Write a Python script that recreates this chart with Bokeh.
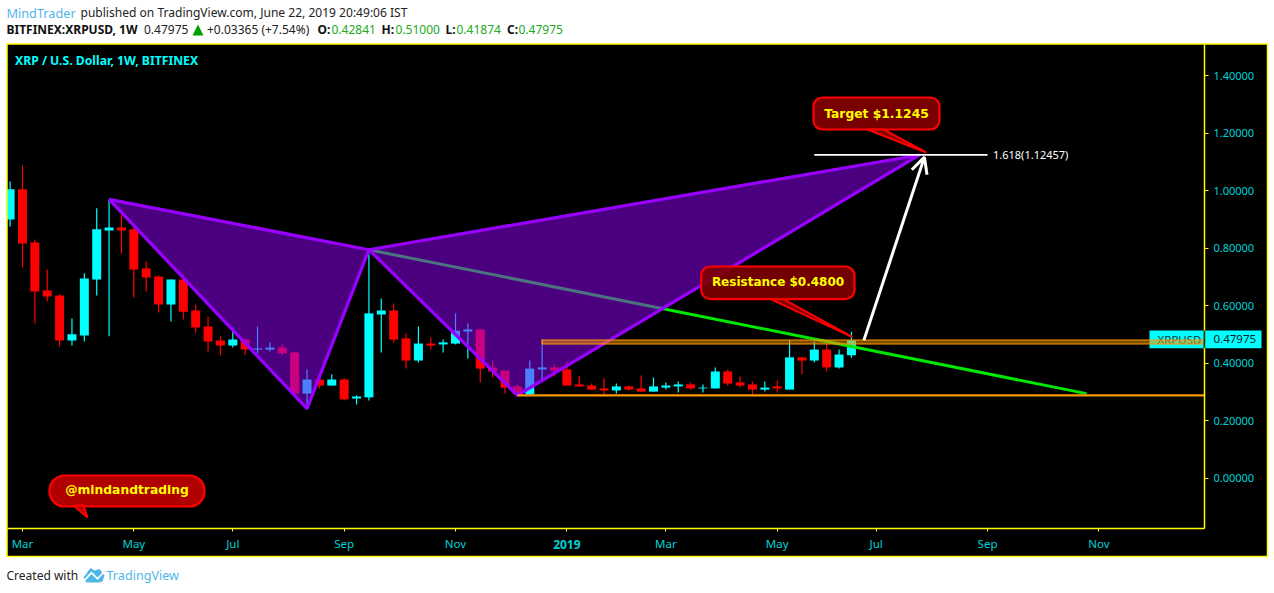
from bokeh.embed import file_html
from bokeh.resources import INLINE
from bokeh.plotting import figure
from bokeh.models import (Range1d, LinearAxis, FixedTicker, Label, BoxAnnotation,
                          PolyAnnotation, Arrow, OpenHead, ColumnDataSource)

# ---- weekly candles, Feb 2018 - Jun 2019 ----
opens = [.900,1.005,.820,.653,.636,.480,.497,.692,.862,.872,.866,.730,.702,.605,.692,.584,.528,.480,.462,.483,.448,.448,.455,.438,
         .295,.344,.323,.344,.278,.282,.570,.584,.487,.410,.469,.466,.469,.511,.518,.386,.375,.320,.292,.379,.386,.379,.327,.323,
         .313,.306,.320,.313,.302,.316,.320,.327,.313,.313,.372,.334,.327,.309,.320,.309,.421,.410,.448,.386,.42841]
highs = [1.032,1.088,.831,.726,.640,.556,.713,.939,.970,.935,.872,.754,.706,.692,.709,.605,.563,.494,.525,.487,.528,.473,.466,.441,
         .379,.344,.362,.348,.289,.782,.626,.608,.504,.528,.490,.483,.574,.539,.518,.410,.375,.327,.410,.483,.396,.407,.355,.330,
         .348,.330,.323,.358,.351,.334,.337,.334,.327,.386,.379,.355,.337,.337,.341,.480,.421,.476,.469,.448,.51000]
lows = [.876,.733,.539,.615,.459,.462,.476,.636,.494,.782,.629,.650,.577,.546,.553,.507,.441,.428,.455,.428,.435,.441,.428,.295,
        .254,.313,.323,.271,.257,.271,.438,.473,.382,.403,.448,.438,.466,.417,.334,.351,.295,.289,.289,.341,.355,.323,.320,.309,
        .292,.295,.306,.302,.302,.309,.299,.309,.299,.313,.323,.316,.292,.302,.299,.309,.362,.403,.372,.382,.41874]
closes = [1.005,.817,.650,.633,.480,.501,.695,.866,.872,.862,.726,.699,.605,.692,.580,.525,.476,.462,.483,.448,.452,.455,.435,.295,
          .344,.323,.344,.275,.285,.574,.584,.483,.410,.469,.462,.473,.514,.518,.382,.372,.316,.292,.382,.386,.375,.323,.320,.309,
          .306,.320,.309,.302,.320,.323,.327,.313,.316,.372,.330,.323,.309,.316,.313,.421,.410,.448,.386,.431,.47975]

# ---- harmonic pattern and drawings (bar number, price) ----
pattern_x = [8, 24, 29, 41, 73.5]
pattern_y = [.970, .243, .795, .289, 1.1245]
trend_x = [29, 87]
trend_y = [.795, .295]
support_x = [41, 96.5]
support_y = [.289, .289]
resistance_top = .4814
resistance_bottom = .4675
resistance_start = 43
fib_x = [65, 79]
fib_y = [1.12457, 1.12457]
move_x = [69, 73.9]
move_y = [.480, 1.117]

# ---- axes ----
price_ticks = [0.0, 0.2, 0.4, 0.6, 0.8, 1.0, 1.2, 1.4]
time_ticks = [1, 10, 18, 27, 36, 45, 53, 62, 70, 79, 88]
time_labels = ["Mar", "May", "Jul", "Sep", "Nov", "", "Mar", "May", "Jul", "Sep", "Nov"]

W, H = 1270, 590
BLACK, RED, CYAN, YELLOW = "#000000", "#ff0000", "#00ffff", "#ffff00"
AXIS_TEXT = "#00d2d8"
UI = "Noto Sans"
PANE_LEFT_BAR, PANE_RIGHT_BAR = -0.21, 96.53
PANE_LOW, PANE_HIGH = -0.1738, 1.5085

p = figure(width=W, height=H, output_backend="svg", toolbar_location=None,
           x_range=Range1d(-0.776, 101.87), y_range=Range1d(-0.3893, 1.6614),
           x_axis_location=None, y_axis_location=None,
           min_border_left=0, min_border_right=0, min_border_top=0, min_border_bottom=0,
           background_fill_color="#ffffff", border_fill_color="#ffffff",
           outline_line_color=None, margin=(0, 0, 0, 0))
p.grid.visible = False


def label(text, x, y, color="#222222", size=12, style="normal", font=UI, level="overlay",
          align="left", x_units="canvas", base="middle"):
    p.add_layout(Label(text=text, x=x, y=y, x_units=x_units, y_units="canvas", text_color=color,
                       text_font=font, text_font_size=f"{size}px", text_font_style=style,
                       text_align=align, text_baseline=base, level=level))


def box(l, r, t, b, fill, line=None, lw=1.0, radius=0, level="annotation", alpha=1.0):
    p.add_layout(BoxAnnotation(left=l, right=r, top=t, bottom=b, left_units="canvas", right_units="canvas",
                               top_units="canvas", bottom_units="canvas", fill_color=fill, fill_alpha=alpha,
                               line_color=line, line_alpha=1.0, line_width=lw, border_radius=radius, level=level,
                               editable=False))


def poly(xs, ys, fill, line=None, lw=1.0, level="annotation", alpha=1.0):
    p.add_layout(PolyAnnotation(xs=xs, ys=ys, xs_units="canvas", ys_units="canvas", fill_color=fill,
                                fill_alpha=alpha, line_color=line, line_alpha=1.0, line_width=lw, level=level,
                                editable=False))


# chart pane and the price tag that sits under the drawings
box(6.5, 1267, 43.5, 556, BLACK, level="underlay")
box(1149, 1261, 330, 347.7, CYAN, level="underlay")
label("XRPUSD", 1157, 338.5, "#203030", 11.5, level="underlay")

# axes
ax_y = LinearAxis(ticker=FixedTicker(ticks=price_ticks), fixed_location=PANE_RIGHT_BAR,
                  bounds=(PANE_LOW, PANE_HIGH),
                  major_label_overrides={t: f"{t:.5f}" for t in price_ticks})
ax_y.axis_line_color = YELLOW
ax_y.axis_line_width = 1.5
ax_y.major_tick_line_color = YELLOW
ax_y.major_tick_in = 0
ax_y.major_tick_out = 4
ax_y.minor_tick_line_color = None
ax_y.major_label_standoff = 5
ax_y.major_label_text_color = AXIS_TEXT
ax_y.major_label_text_font = UI
ax_y.major_label_text_font_size = "11px"
p.add_layout(ax_y, "right")

ax_x = LinearAxis(ticker=FixedTicker(ticks=time_ticks), fixed_location=PANE_LOW,
                  bounds=(PANE_LEFT_BAR, PANE_RIGHT_BAR),
                  major_label_overrides=dict(zip(time_ticks, time_labels)))
ax_x.axis_line_color = YELLOW
ax_x.axis_line_width = 1.5
ax_x.major_tick_line_color = YELLOW
ax_x.major_tick_in = 0
ax_x.major_tick_out = 3
ax_x.minor_tick_line_color = None
ax_x.major_label_standoff = 5
ax_x.major_label_text_color = AXIS_TEXT
ax_x.major_label_text_font = UI
ax_x.major_label_text_font_size = "11.5px"
p.add_layout(ax_x, "below")
label("2019", 45, 543.5, AXIS_TEXT, 12, "bold", align="center", x_units="data", level="annotation")

# candles
src = ColumnDataSource(dict(
    x=list(range(len(opens))), o=opens, h=highs, l=lows, c=closes,
    bottom=[min(a, b) for a, b in zip(opens, closes)], top=[max(a, b) for a, b in zip(opens, closes)],
    color=[CYAN if c >= o else RED for o, c in zip(opens, closes)]))
p.segment(x0="x", x1="x", y0="l", y1="h", color="color", line_width=1.2, source=src)
p.vbar(x="x", bottom="bottom", top="top", width=0.727, fill_color="color", line_color=None, source=src)

# trend line lies under the translucent pattern
p.line(trend_x, trend_y, line_color="#00e600", line_width=3)

# pattern
p.patch(pattern_x[:3], pattern_y[:3], fill_color="#9600ff", fill_alpha=0.5, line_color=None)
p.patch(pattern_x[2:], pattern_y[2:], fill_color="#9600ff", fill_alpha=0.5, line_color=None)
p.line(pattern_x + [pattern_x[2], pattern_x[0]], pattern_y + [pattern_y[2], pattern_y[0]],
       line_color="#9900ff", line_width=3.2)

# support and resistance
p.line(support_x, support_y, line_color="#ff9800", line_width=2.2)
p.quad(left=resistance_start, right=support_x[1], top=resistance_top, bottom=resistance_bottom,
       fill_color="#ff9800", fill_alpha=0.5, line_color="#ff9800", line_width=1.2)

# fib level and move arrow
p.line(fib_x, fib_y, line_color="#ffffff", line_width=1.8)
label(f"1.618({fib_y[0]:.5f})", 992.5, 153.8, "#ffffff", 11, level="annotation")
p.add_layout(Arrow(end=OpenHead(size=16, line_color="#ffffff", line_width=3), x_start=move_x[0], y_start=move_y[0],
                   x_end=move_x[1], y_end=move_y[1], line_color="#ffffff", line_width=3))

# pane edge: bars are cut at its left side
box(0, 5.8, 43, 557, "#ffffff")
box(6.5, 1267, 43.5, 556, None, YELLOW, 1.5)

# callouts
box(813, 939, 97, 129, "#800000", RED, 2.2, 9, alpha=0.95)
poly([867, 925.7, 883], [129, 152, 129], "#800000", RED, 2)
label("Target $1.1245", 876, 113, YELLOW, 12.3, "bold", "DejaVu Sans", align="center")

box(700.7, 854, 266, 298.7, "#800000", RED, 2.2, 9, alpha=0.9)
poly([770, 852, 783], [298.7, 336.7, 298.7], "#800000", RED, 2)
label("Resistance $0.4800", 777.5, 281.5, YELLOW, 12, "bold", "DejaVu Sans", align="center")

box(49, 204, 475, 506, "#b00000", RED, 2.2, 15)
poly([73, 87, 83], [505, 517, 505], "#b00000", RED, 2)
label("@mindandtrading", 126.5, 489.5, YELLOW, 12.3, "bold", "DejaVu Sans", align="center")

# chart title and last price tag text
label("XRP / U.S. Dollar, 1W, BITFINEX", 14.5, 60, CYAN, 12.2, "bold")
box(1203, 1204.8, 330, 347.7, "#103030")
label(f"{closes[-1]:.5f}", 1213, 338.5, "#102020", 11.5)

# header
G = "#22aa22"
label("MindTrader", 6, 12, "#4fb6e8", 12.7)
label("published on TradingView.com, June 22, 2019 20:49:06 IST", 80, 12, "#222222", 12.05)
label("BITFINEX:XRPUSD, 1W", 6, 29, "#111111", 12, "bold")
label("0.47975", 143.5, 29, "#222222", 12)
poly([192, 197.5, 203], [35, 24, 35], "#00a000")
label("+0.03365 (+7.54%)", 206.5, 29, "#222222", 12)
label("O:", 317, 29, "#111111", 12, "bold")
label("0.42841", 331, 29, G, 12)
label("H:", 381, 29, "#111111", 12, "bold")
label("0.51000", 395, 29, G, 12)
label("L:", 445, 29, "#111111", 12, "bold")
label("0.41874", 456, 29, G, 12)
label("C:", 506.5, 29, "#111111", 12, "bold")
label("0.47975", 518, 29, G, 12)

# footer
label("Created with", 6, 575, "#222222", 12)
poly([83, 90, 94, 99, 104, 102, 98, 86], [577, 567.5, 570, 568.5, 575, 581, 582, 582], "#4fb6e8")
poly([83.5, 91, 97, 102, 103, 97, 91, 84.5], [579, 571, 577, 572, 573, 579.5, 573.5, 580.5], "#ffffff")
label("TradingView", 106, 575, "#4fb6e8", 12.6)

open("out.html", "w").write(file_html(p, INLINE))
